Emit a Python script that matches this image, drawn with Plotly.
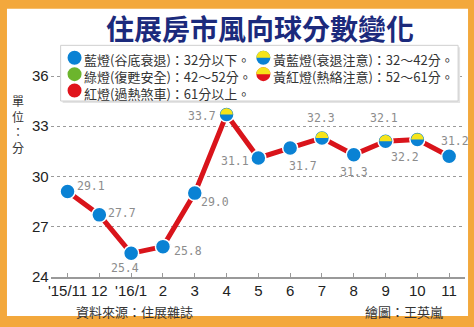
import numpy as np
import plotly.graph_objects as go

# ---- data ----
months = ["'15/11", "12", "'16/1", "2", "3", "4", "5", "6", "7", "8", "9", "10", "11"]
scores = [29.1, 27.7, 25.4, 25.8, 29.0, 33.7, 31.1, 31.7, 32.3, 31.3, 32.1, 32.2, 31.2]
y_ticks = [24, 27, 30, 33, 36]
title_text = "住展房市風向球分數變化"
unit_chars = ["單", "位", "：", "分"]
legend_col1_kinds = ["blue", "green", "red"]
legend_col1_texts = ["藍燈(谷底衰退)：32分以下。", "綠燈(復甦安全)：42～52分。", "紅燈(過熱煞車)：61分以上。"]
legend_col2_kinds = ["yb", "yr"]
legend_col2_texts = ["黃藍燈(衰退注意)：32～42分。", "黃紅燈(熱絡注意)：52～61分。"]
source_text = "資料來源：住展雜誌"
credit_text = "繪圖：王英嵐"
blue_limit = 32

# ---- style ----
W, H = 474, 327
BLUE = "#0a82d4"
GREEN = "#6cb52d"
RED = "#e0141c"
YELLOW = "#f6e41a"
LINE_RED = "#d9141b"
ORANGE = "#f3a83c"
NAVY = "#1b2a7c"
CJK = "Noto Sans CJK TC"
ROW_H = 17

# label offsets (px, dx right, dy down) per point - style only
label_off = [(23, -5), (23, -2), (-6, 15), (25, 4), (20, 9), (-25, 1), (-23, 3),
             (13, 18), (-1, -20), (0, 17), (-2, -23), (-12, 17), (6, -15)]

x_idx = list(range(len(months)))

px = lambda v: v / W
py = lambda v: 1 - v / H

fig = go.Figure()
fig.add_trace(go.Scatter(
    x=x_idx, y=scores, mode="lines+markers",
    line=dict(color=LINE_RED, width=5),
    marker=dict(size=15, color=BLUE, line=dict(color="white", width=1.5)),
    cliponaxis=False, hoverinfo="skip", showlegend=False,
))


def half_path(r, n=24):
    a = np.linspace(0, np.pi, n)
    pts = [f"{r*np.cos(t):.2f},{r*np.sin(t):.2f}" for t in a]
    return "M " + " L ".join(pts) + " Z"


shapes = []
shapes.append(dict(type="rect", xref="paper", yref="paper", x0=px(4), x1=px(468),
                   y0=py(324), y1=py(4), fillcolor="white", line=dict(width=0), layer="below"))

for i, v in enumerate(scores):
    if v > blue_limit:
        shapes.append(dict(type="path", xref="x", yref="y", xsizemode="pixel", ysizemode="pixel",
                           xanchor=i, yanchor=v, path=half_path(6.2), fillcolor=YELLOW,
                           line=dict(width=0), layer="above"))

# legend box
shapes.append(dict(type="rect", xref="paper", yref="paper", x0=px(60), x1=px(460),
                   y0=py(102), y1=py(44), fillcolor="#e4e4e4", line=dict(width=0), layer="above"))
shapes.append(dict(type="rect", xref="paper", yref="paper", x0=px(58), x1=px(458),
                   y0=py(100), y1=py(42), fillcolor="white", line=dict(color="#cfcfcf", width=1),
                   layer="above"))

annotations = []
base_col = {"blue": BLUE, "green": GREEN, "red": RED, "yb": BLUE, "yr": RED}
for kinds, texts, lx in ((legend_col1_kinds, legend_col1_texts, 72),
                         (legend_col2_kinds, legend_col2_texts, 262)):
    for r, kind in enumerate(kinds):
        ly = 55 + r * ROW_H
        shapes.append(dict(type="circle", xref="paper", yref="paper", xsizemode="pixel", ysizemode="pixel",
                           xanchor=px(lx), yanchor=py(ly), x0=-7, x1=7, y0=-7, y1=7,
                           fillcolor=base_col[kind], line=dict(width=0), layer="above"))
        if kind in ("yb", "yr"):
            shapes.append(dict(type="path", xref="paper", yref="paper", xsizemode="pixel", ysizemode="pixel",
                               xanchor=px(lx), yanchor=py(ly), path=half_path(7),
                               fillcolor=YELLOW, line=dict(width=0), layer="above"))
    annotations.append(dict(x=px(lx + 9), y=py(55 - 9), xref="paper", yref="paper",
                            text="<br>".join(texts), showarrow=False, xanchor="left", yanchor="top",
                            align="left", borderpad=0,
                            font=dict(family=CJK, size=13, color="#333333")))

# data labels
for i, v in enumerate(scores):
    dx, dy = label_off[i]
    annotations.append(dict(x=i, y=v, xref="x", yref="y", text=f"{v:.1f}", showarrow=False,
                            xshift=dx, yshift=-dy, xanchor="center", yanchor="middle",
                            font=dict(family="DejaVu Sans Mono", size=11.5, color="#8c8c8c")))

annotations.append(dict(x=px(259), y=py(24), xref="paper", yref="paper", text=f"<b>{title_text}</b>",
                        showarrow=False, xanchor="center", yanchor="middle",
                        font=dict(family=CJK, size=28, color=NAVY)))
annotations.append(dict(x=px(15), y=py(124), xref="paper", yref="paper", text="<br>".join(unit_chars),
                        showarrow=False, xanchor="center", yanchor="middle", borderpad=0,
                        font=dict(family=CJK, size=12, color="#333333")))
annotations.append(dict(x=px(132), y=py(319), xref="paper", yref="paper", text=source_text,
                        showarrow=False, xanchor="center", yanchor="middle", borderpad=0,
                        font=dict(family=CJK, size=13, color="#333333")))
annotations.append(dict(x=px(404), y=py(319), xref="paper", yref="paper", text=credit_text,
                        showarrow=False, xanchor="center", yanchor="middle", borderpad=0,
                        font=dict(family=CJK, size=13, color="#333333")))

fig.update_layout(
    width=W, height=H,
    margin=dict(l=0, r=0, t=0, b=0),
    paper_bgcolor=ORANGE, plot_bgcolor="white",
    showlegend=False,
    shapes=shapes, annotations=annotations,
    xaxis=dict(domain=[px(48), px(465)], range=[-0.53, 12.5],
               tickvals=x_idx, ticktext=months, showgrid=False, zeroline=False,
               showline=True, linecolor="#999999", linewidth=1.5,
               ticks="inside", ticklen=4, tickcolor="#999999",
               tickfont=dict(family="Liberation Sans", size=15, color="#222222"), fixedrange=True),
    yaxis=dict(domain=[py(283), py(70.5)], range=[24, 36.2], tickvals=y_ticks,
               showgrid=True, gridcolor="#9a9a9a", griddash="dot", gridwidth=1,
               zeroline=False, showline=False, ticks="", ticklabelstandoff=1,
               tickfont=dict(family="Liberation Sans", size=15, color="#222222"), fixedrange=True),
)

fig.write_html("out.html")
